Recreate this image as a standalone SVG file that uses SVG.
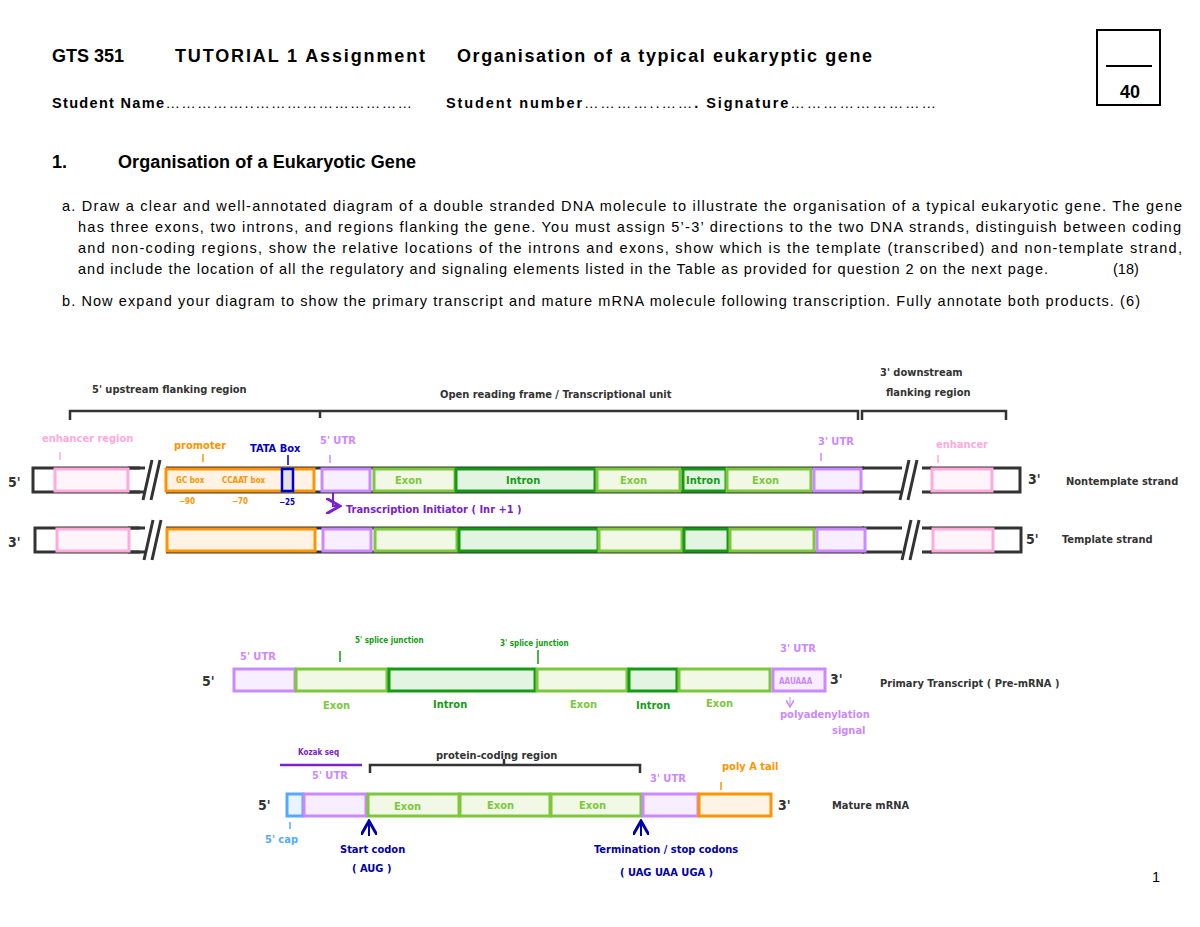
<svg xmlns="http://www.w3.org/2000/svg" width="1200" height="927" viewBox="0 0 1200 927">
<style>
.h{font-family:"Liberation Sans",Arial,sans-serif;font-weight:bold;font-size:18px;fill:#000}
.t{font-family:"Liberation Sans",Arial,sans-serif;font-size:14.5px;fill:#000}
.hw{font-family:"DejaVu Sans Condensed","DejaVu Sans",sans-serif;font-weight:bold;font-size:11px}
.k{fill:#333}.s{font-size:8px}
.pk{fill:#fef4f9;stroke:#ffaadd;stroke-width:3}
.or{fill:#fff3e6;stroke:#ff9400;stroke-width:3}
.pu{fill:#f7efff;stroke:#cc88ff;stroke-width:3}
.ex{fill:#f1f8e6;stroke:#7dc83a;stroke-width:3}
.in{fill:#e3f4e3;stroke:#139c13;stroke-width:3}
.bl{fill:none;stroke:#333;stroke-width:3}
.ln{fill:none;stroke:#333;stroke-width:2.5}
</style>
<defs><marker id="a" markerWidth="8" markerHeight="8" refX="6" refY="4" orient="auto"><path d="M0,0L7,4L0,8" fill="none" stroke="context-stroke" stroke-width="1.5"/></marker></defs>
<g id="header">
<text class="h" x="52" y="62">GTS 351</text>
<text class="h" x="175" y="62" textLength="250">TUTORIAL 1 Assignment</text>
<text class="h" x="457" y="62" textLength="415">Organisation of a typical eukaryptic gene</text>
<rect x="1097" y="30" width="63" height="75" fill="none" stroke="#000" stroke-width="2"/>
<line x1="1106" y1="66" x2="1152" y2="66" stroke="#000" stroke-width="2"/>
<text class="h" x="1120" y="98">40</text>
<text class="t" x="52" y="108" font-weight="bold" font-size="14" textLength="360">Student Name<tspan font-weight="normal">……………..…………………………</tspan></text>
<text class="t" x="446" y="108" font-weight="bold" font-size="14" textLength="490">Student number<tspan font-weight="normal">…………..……</tspan>. Signature<tspan font-weight="normal">………………………</tspan></text>
<text class="h" x="52" y="168">1.</text>
<text class="h" x="118" y="168" textLength="298">Organisation of a Eukaryotic Gene</text>
<text class="t" x="62" y="211" textLength="1120">a. Draw a clear and well-annotated diagram of a double stranded DNA molecule to illustrate the organisation of a typical eukaryotic gene. The gene</text>
<text class="t" x="78" y="232" textLength="1103">has three exons, two introns, and regions flanking the gene. You must assign 5’-3’ directions to the two DNA strands, distinguish between coding</text>
<text class="t" x="78" y="253" textLength="1104">and non-coding regions, show the relative locations of the introns and exons, show which is the template (transcribed) and non-template strand,</text>
<text class="t" x="78" y="274" textLength="970">and include the location of all the regulatory and signaling elements listed in the Table as provided for question 2 on the next page.</text>
<text class="t" x="1113" y="274">(18)</text>
<text class="t" x="62" y="306" textLength="1078">b. Now expand your diagram to show the primary transcript and mature mRNA molecule following transcription. Fully annotate both products.   (6)</text>
<text class="t" x="1152" y="882" font-family="Liberation Serif">1</text>
</g>
<g id="connectors">
<path class="ln" d="M70,420V411H858V420M320,411V418"/>
<path class="ln" d="M862,420V411H1006V420"/>
<path class="ln" d="M370,773V765H640V773M504,765V759"/>
<line x1="280" y1="765" x2="362" y2="765" stroke="#7a22cc" stroke-width="2.5"/>
<path d="M333,493V506H338" fill="none" stroke="#7a22cc" stroke-width="2" marker-end="url(#a)"/>
<path d="M369,836V823" stroke="#0000aa" stroke-width="2" marker-end="url(#a)"/>
<path d="M641,836V823" stroke="#0000aa" stroke-width="2" marker-end="url(#a)"/>
<path d="M790,697V706" stroke="#cc88ff" stroke-width="1" marker-end="url(#a)"/>
<g stroke-width="1.5">
<line x1="60" y1="452" x2="60" y2="460" stroke="#ffaadd"/><line x1="203" y1="454" x2="203" y2="462" stroke="#ff9400"/>
<line x1="288" y1="455" x2="288" y2="465" stroke="#0000cc"/><line x1="330" y1="455" x2="330" y2="463" stroke="#cc88ff"/>
<line x1="821" y1="453" x2="821" y2="461" stroke="#cc88ff"/><line x1="938" y1="455" x2="938" y2="463" stroke="#ffaadd"/>
<line x1="340" y1="651" x2="340" y2="662" stroke="#139c13"/><line x1="538" y1="650" x2="538" y2="664" stroke="#139c13"/>
<line x1="290" y1="822" x2="290" y2="829" stroke="#55aaff"/><line x1="721" y1="782" x2="721" y2="790" stroke="#ff9400"/>
</g>
</g>
<g id="top-strand">
<rect class="bl" x="33" y="468" width="987" height="24"/>
<rect x="140" y="462" width="26" height="36" fill="#fff"/><rect x="864" y="462" width="66" height="36" fill="#fff"/>
<path class="bl" d="M128,468H145M128,492H145M862,468H902M862,492H902M922,468H932M922,492H932" />
<path class="bl" d="M143,500L152,460M151,500L160,460M900,500L909,460M908,500L917,460"/>
<rect class="pk" x="55" y="469" width="73" height="22"/>
<rect class="or" x="166" y="469" width="148" height="22"/>
<rect x="282" y="469" width="11" height="22" fill="#e4e0e8" stroke="#0000cc" stroke-width="2.5"/>
<rect class="pu" x="322" y="469" width="48" height="22"/>
<rect class="ex" x="374" y="469" width="81" height="22"/>
<rect class="in" x="456" y="469" width="139" height="22"/>
<rect class="ex" x="597" y="469" width="83" height="22"/>
<rect class="in" x="683" y="469" width="43" height="22"/>
<rect class="ex" x="727" y="469" width="84" height="22"/>
<rect class="pu" x="814" y="469" width="47" height="22"/>
<rect class="pk" x="932" y="469" width="60" height="22"/>
</g>
<g id="bottom-strand">
<rect class="bl" x="35" y="528" width="986" height="24"/>
<rect x="140" y="522" width="26" height="36" fill="#fff"/><rect x="864" y="522" width="66" height="36" fill="#fff"/>
<path class="bl" d="M128,528H145M128,552H145M862,528H902M862,552H902M922,528H932M922,552H932"/>
<path class="bl" d="M144,560L153,520M152,560L161,520M902,560L911,520M910,560L919,520"/>
<rect class="pk" x="57" y="529" width="72" height="22"/>
<rect class="or" x="167" y="529" width="148" height="22"/>
<rect class="pu" x="323" y="529" width="48" height="22"/>
<rect class="ex" x="375" y="529" width="82" height="22"/>
<rect class="in" x="459" y="529" width="139" height="22"/>
<rect class="ex" x="599" y="529" width="83" height="22"/>
<rect class="in" x="684" y="529" width="44" height="22"/>
<rect class="ex" x="730" y="529" width="84" height="22"/>
<rect class="pu" x="817" y="529" width="48" height="22"/>
<rect class="pk" x="933" y="529" width="60" height="22"/>
</g>
<g id="labels-dna" class="hw">
<text class="k" x="92" y="393">5' upstream flanking region</text>
<text class="k" x="440" y="398">Open reading frame  /  Transcriptional unit</text>
<text class="k" x="880" y="376">3' downstream</text><text class="k" x="886" y="396">flanking region</text>
<text x="42" y="442" fill="#ffaadd">enhancer region</text>
<text x="174" y="449" fill="#ff9400">promoter</text>
<text x="250" y="452" fill="#0000cc">TATA Box</text>
<text x="320" y="444" fill="#cc88ff">5' UTR</text>
<text x="818" y="445" fill="#cc88ff">3' UTR</text>
<text x="936" y="448" fill="#ffaadd">enhancer</text>
<text class="k" x="8" y="487" font-size="14">5'</text><text class="k" x="8" y="547" font-size="14">3'</text>
<text class="k" x="1028" y="484" font-size="14">3'</text><text class="k" x="1026" y="544" font-size="14">5'</text>
<text class="k" x="1066" y="485">Nontemplate strand</text><text class="k" x="1062" y="543">Template strand</text>
<text x="176" y="483" fill="#ff9400" class="s">GC box</text><text x="222" y="483" fill="#ff9400" class="s">CCAAT box</text>
<text x="179" y="504" fill="#ff9400" class="s">−90</text><text x="232" y="504" fill="#ff9400" class="s">−70</text><text x="279" y="505" fill="#0000cc" class="s">−25</text>
<text x="346" y="513" fill="#7a22cc">Transcription Initiator ( Inr +1 )</text>
<g fill="#7dc83a"><text x="395" y="484">Exon</text><text x="620" y="484">Exon</text><text x="752" y="484">Exon</text></g>
<g fill="#139c13"><text x="506" y="484">Intron</text><text x="686" y="484">Intron</text></g>
</g>
<g id="primary-transcript">
<rect class="pu" x="234" y="669" width="61" height="22"/>
<rect class="ex" x="296" y="669" width="91" height="22"/>
<rect class="in" x="389" y="669" width="146" height="22"/>
<rect class="ex" x="537" y="669" width="90" height="22"/>
<rect class="in" x="629" y="669" width="48" height="22"/>
<rect class="ex" x="679" y="669" width="91" height="22"/>
<rect class="pu" x="773" y="669" width="52" height="22"/>
</g>
<g id="mature-mrna">
<rect x="287" y="794" width="16" height="22" fill="#eaf4ff" stroke="#55aaff" stroke-width="3"/>
<rect class="pu" x="304" y="794" width="62" height="22"/>
<rect class="ex" x="368" y="794" width="91" height="22"/>
<rect class="ex" x="460" y="794" width="90" height="22"/>
<rect class="ex" x="551" y="794" width="90" height="22"/>
<rect class="pu" x="643" y="794" width="55" height="22"/>
<rect class="or" x="699" y="794" width="72" height="22"/>
</g>
<g id="labels-rna" class="hw">
<text x="240" y="660" fill="#cc88ff">5' UTR</text><text x="780" y="652" fill="#cc88ff">3' UTR</text>
<text x="355" y="643" fill="#139c13" class="s">5' splice junction</text><text x="500" y="646" fill="#139c13" class="s">3' splice junction</text>
<text class="k" x="202" y="686" font-size="14">5'</text><text class="k" x="830" y="684" font-size="14">3'</text>
<text class="k" x="880" y="687">Primary Transcript  ( Pre-mRNA )</text>
<text x="779" y="684" fill="#cc88ff" class="s">AAUAAA</text>
<g fill="#7dc83a"><text x="323" y="709">Exon</text><text x="570" y="708">Exon</text><text x="706" y="707">Exon</text></g>
<g fill="#139c13"><text x="433" y="708">Intron</text><text x="636" y="709">Intron</text></g>
<text x="780" y="718" fill="#cc88ff">polyadenylation</text><text x="832" y="734" fill="#cc88ff">signal</text>
<text x="298" y="755" fill="#7a22cc" class="s">Kozak seq</text>
<text class="k" x="436" y="759">protein-coding region</text>
<text x="312" y="779" fill="#cc88ff">5' UTR</text><text x="650" y="782" fill="#cc88ff">3' UTR</text>
<text x="722" y="770" fill="#ff9400">poly A tail</text>
<text class="k" x="258" y="810" font-size="14">5'</text><text class="k" x="778" y="810" font-size="14">3'</text>
<text class="k" x="832" y="809">Mature mRNA</text>
<g fill="#7dc83a"><text x="394" y="810">Exon</text><text x="487" y="809">Exon</text><text x="579" y="809">Exon</text></g>
<text x="265" y="843" fill="#55aaff">5' cap</text>
<text x="340" y="853" fill="#0000aa">Start codon</text><text x="352" y="872" fill="#0000aa">( AUG )</text>
<text x="594" y="853" fill="#0000aa">Termination / stop codons</text><text x="620" y="876" fill="#0000aa">( UAG  UAA  UGA )</text>
</g>
</svg>
